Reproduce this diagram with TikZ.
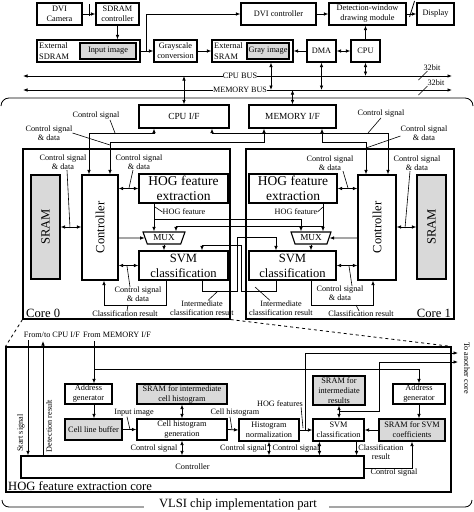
\documentclass[tikz,border=0pt]{standalone}
\usepackage{fontspec}
\setmainfont{Liberation Serif}
\usetikzlibrary{arrows.meta,shapes.geometric}

\begin{document}
\begin{tikzpicture}[x=1pt,y=-1pt,>={Latex[length=4.5pt,width=3.6pt]},
		blk/.style={draw,line width=1.1pt,inner sep=0pt,align=center,font=\fontsize{8.3}{10}\selectfont},
		gblk/.style={blk,fill=black!15},
		big/.style={inner sep=0pt,align=center,font=\fontsize{12.6}{15}\selectfont},
		hog/.style={font=\fontsize{13.5}{15}\selectfont},
		lbl/.style={inner sep=0pt,align=center,font=\fontsize{8.2}{9}\selectfont},
		mux/.style={draw,line width=1.1pt,trapezium,shape border rotate=180,trapezium angle=66,trapezium stretches=true,inner sep=0pt,minimum height=12pt,font=\fontsize{9.2}{10}\selectfont},
		con/.style={line width=0.8pt},
		lead/.style={line width=0.6pt}]
	\useasboundingbox (0,0) rectangle (474,512);
	% system
	\node[blk,minimum width=45pt,minimum height=22pt] (cam) at (59.5,14) {DVI\\Camera};
	\node[blk,minimum width=43pt,minimum height=22pt] (sdc) at (117.5,14) {SDRAM\\controller};
	\node[blk,minimum width=75pt,minimum height=22pt] (dvic) at (278.5,14) {DVI controller};
	\node[blk,minimum width=77pt,minimum height=22pt] (dwd) at (367.5,14) {Detection-window\\drawing module};
	\node[blk,minimum width=37pt,minimum height=22pt] (disp) at (435.5,14) {Display};
	\node[blk,minimum width=103pt,minimum height=22pt] (exsd) at (88.5,51) {};
	\node[lbl,anchor=west,align=left,font=\fontsize{8.4}{11.5}\selectfont] (exsdt) at (39,51) {External\\SDRAM};
	\node[gblk,minimum width=56pt,minimum height=16pt] (inimg) at (108,51) {Input image};
	\node[blk,minimum width=43pt,minimum height=22pt] (gsc) at (175.5,51) {Grayscale\\conversion};
	\node[blk,minimum width=81pt,minimum height=22pt] (exsr) at (252.5,51) {};
	\node[lbl,anchor=west,align=left,font=\fontsize{8.4}{11.5}\selectfont] (exsrt) at (214,51) {External\\SRAM};
	\node[gblk,minimum width=42pt,minimum height=16pt] (grimg) at (268,51) {Gray image};
	\node[blk,minimum width=29pt,minimum height=22pt] (dma) at (321.5,51) {DMA};
	\node[blk,minimum width=29pt,minimum height=22pt] (cpu) at (365.5,51) {CPU};
	\node[lbl,font=\fontsize{8.3}{9}\selectfont] (cbus) at (240,76) {CPU BUS};
	\node[lbl,font=\fontsize{8.1}{9}\selectfont] (mbus) at (240,90) {MEMORY BUS};
	\coordinate (cbl) at (23,76);
	\coordinate (cbr) at (452,76);
	\coordinate (mbl) at (23,90);
	\coordinate (mbr) at (452,90);
	\coordinate (jn) at (146,51);
	\node[lbl] (w1) at (432,68) {32bit};
	\node[lbl] (w2) at (436,83) {32bit};

	\draw[con,->] (cam.east) -- (sdc.west);
	\draw[con] ([xshift=7pt,yshift=10pt]cam.east) -- ([xshift=7pt,yshift=-2pt]cam.east);
	\draw[con,->] (sdc.south) -- (sdc.south |- exsd.north);
	\draw[con,->] (exsd.east) -- (gsc.west);
	\draw[con,->] (jn) |- (dvic.west);
	\draw[con,->] (gsc.east) -- (exsr.west);
	\draw[con,->] (dma.west) -- (exsr.east);
	\draw[con,<->] (dma.east) -- (cpu.west);
	\draw[con,->] (cpu.north) -- (cpu.north |- dwd.south);
	\draw[con,->] (dvic.east) -- (dwd.west);
	\draw[con,->] (dwd.east) -- (disp.west);
	\draw[con] ([xshift=3pt,yshift=-3pt]dwd.east) -- ([xshift=8pt,yshift=13pt]dwd.east);
	\draw[con,->] (cbus.west) -- (cbl);
	\draw[con,->] (cbus.east) -- (cbr);
	\draw[con,->] (mbus.west) -- (mbl);
	\draw[con,->] (mbus.east) -- (mbr);
	\draw[lead] ([xshift=-5pt,yshift=-9pt]w1.south west) -- ([xshift=4pt]w1.south west);
	\draw[lead] ([xshift=-9pt,yshift=-9pt]w2.south west) -- (w2.south west);
	\draw[con,<->] ([xshift=18.5pt]exsr.south) -- ([xshift=18.5pt]exsr.south |- mbus);
	\draw[con,<->] (dma.south) -- (dma.south |- mbus);
	\draw[con,<->] (cpu.south) -- (cpu.south |- cbus);

	% chip
	\draw[con] (1,106) to[out=90,in=180] (9,98) -- (465,98) to[out=0,in=90] (473,106);
	\node[blk,minimum width=90pt,minimum height=23pt,font=\fontsize{9.3}{10}\selectfont] (cpuif) at (184,116.5) {CPU I/F};
	\node[blk,minimum width=87pt,minimum height=23pt,font=\fontsize{9.3}{10}\selectfont] (memif) at (292.5,116.5) {MEMORY I/F};
	\draw[con,<->] (cpuif.north) -- (cpuif.north |- cbus);
	\draw[con,<->] (memif.north) -- (memif.north |- mbus);
	\node[blk,minimum width=207pt,minimum height=170pt] (core0) at (126.5,234) {};
	\node[blk,minimum width=208pt,minimum height=170pt] (core1) at (350,234) {};
	\node[big,anchor=base west] (c0t) at (26,317) {Core 0};
	\node[big,anchor=base east] (c1t) at (451,317) {Core 1};

	\node[gblk,minimum width=29pt,minimum height=104pt] (sram0) at (45.5,227) {};
	\node[big,rotate=90] (sram0t) at (sram0) {SRAM};
	\node[blk,minimum width=36pt,minimum height=105pt] (ctl0) at (100,227.5) {};
	\node[big,rotate=90] (ctl0t) at (ctl0) {Controller};
	\node[blk,big,hog,minimum width=89pt,minimum height=29pt] (hog0) at (183.5,188.5) {HOG feature\\extraction};
	\node[mux,minimum width=42pt] (mux0) at (164,238) {MUX};
	\node[blk,big,minimum width=89pt,minimum height=29pt] (svm0) at (183.5,265.5) {SVM\\classification};

	\node[gblk,minimum width=29pt,minimum height=104pt] (sram1) at (431.5,227) {};
	\node[big,rotate=90] (sram1t) at (sram1) {SRAM};
	\node[blk,minimum width=38pt,minimum height=105pt] (ctl1) at (377,227.5) {};
	\node[big,rotate=90] (ctl1t) at (ctl1) {Controller};
	\node[blk,big,hog,minimum width=88pt,minimum height=29pt] (hog1) at (293,188.5) {HOG feature\\extraction};
	\node[mux,minimum width=40pt] (mux1) at (311,238) {MUX};
	\node[blk,big,minimum width=87pt,minimum height=29pt] (svm1) at (292.5,265.5) {SVM\\classification};

	\coordinate (cs0) at (89,133);
	\coordinate (cs1) at (388,133);
	\coordinate (md0) at (110,142);
	\coordinate (md1) at (366,142);
	\draw[con,<->] ([xshift=-30pt]cpuif.south) |- (cs0) -- (cs0 |- ctl0.north);
	\draw[con,<->] ([xshift=28pt]cpuif.south) |- (cs1) -- (cs1 |- ctl1.north);
	\draw[con,<->] ([xshift=-28.5pt]memif.south) |- (md0) -- (md0 |- ctl0.north);
	\draw[con,<->] ([xshift=29.5pt]memif.south) |- (md1) -- (md1 |- ctl1.north);
	\node[lbl] (l1) at (96,116) {Control signal};
	\node[lbl] (l2) at (49,133) {Control signal\\\& data};
	\node[lbl] (l3) at (381,114) {Control signal};
	\node[lbl] (l4) at (424,133) {Control signal\\\& data};
	\draw[lead] ([xshift=14pt]l1.south) -- (115,133);
	\draw[lead] (l2.east) -- (110,145);
	\draw[lead] (l3.south) -- (368,133);
	\draw[lead] ([yshift=-3pt]l4.west) -- (366,148);

	\draw[con,<->] (sram0.east) -- (sram0.east -| ctl0.west);
	\draw[con,<->] (ctl0.east |- hog0) -- (hog0.west);
	\draw[con,->] (ctl0.east |- mux0) -- (mux0.west);
	\draw[con,<->] (ctl0.east |- svm0) -- (svm0.west);
	\draw[con,->] (mux0.south) -- (mux0.south |- svm0.north);
	\draw[con,<->] (sram1.west) -- (sram1.west -| ctl1.east);
	\draw[con,<->] (ctl1.west |- hog1) -- (hog1.east);
	\draw[con,->] (ctl1.west |- mux1) -- (mux1.east);
	\draw[con,<->] (ctl1.west |- svm1) -- (svm1.east);
	\draw[con,->] (mux1.south) -- (mux1.south |- svm1.north);

	\coordinate (h0o) at (154,203);
	\coordinate (h0x) at (154,219);
	\coordinate (m1l) at (301,219);
	\coordinate (h1o) at (323,203);
	\coordinate (h1x) at (323,226);
	\coordinate (m0r) at (176,226);
	\draw[con,->] (h0o) -- (h0o |- mux0.north);
	\draw[con,->] (h0x) -- (m1l) -- (m1l |- mux1.north);
	\draw[con,->] (h1o) -- (h1o |- mux1.north);
	\draw[con,->] (h1x) -- (m0r) -- (m0r |- mux0.north);

	\coordinate (cr0) at (166,305);
	\coordinate (cr1) at (311,305);
	\draw[con,->] (svm0.south -| cr0) -- (cr0) -| ([xshift=4pt]ctl0.south);
	\draw[con,->] (svm1.south -| cr1) -- (cr1) -| ([xshift=-4pt]ctl1.south);
	\coordinate (ia0) at (202,291);
	\coordinate (ia1) at (237,237);
	\coordinate (ib0) at (276,291);
	\coordinate (ib1) at (241,245);
	\draw[con,->] (svm0.south -| ia0) -- (ia0) -| (ia1) -| (svm1.north -| ib0);
	\draw[con,->] (svm1.south -| ib0) -- (ib0) -| (ib1) -| (svm0.north -| ia0);

	\node[lbl] (l5) at (63,162.5) {Control signal\\\& data};
	\node[lbl] (l6) at (139,162.5) {Control signal\\\& data};
	\node[lbl] (l7) at (184,212) {HOG feature};
	\node[lbl] (l8) at (138,294.5) {Control signal\\\& data};
	\node[lbl] (l9) at (125,314) {Classification result};
	\node[lbl] (l10) at (202,308) {Intermediate\\classification result};
	\draw[lead] ([xshift=4pt]l5.south) -- (70,228);
	\draw[lead] ([xshift=-6pt]l6.south) -- (129,188);
	\draw[lead] (l7.west) -- (155,207);
	\draw[lead] ([xshift=-8pt]l8.north) -- (127,266);
	\draw[lead] ([xshift=2pt]l9.north) -- (128,305);
	\draw[lead] ([xshift=6pt]l10.north) -- (218,291);
	\node[lbl] (l11) at (330,163.5) {Control signal\\\& data};
	\node[lbl] (l12) at (417,163.5) {Control signal\\\& data};
	\node[lbl] (l13) at (296,212) {HOG feature};
	\node[lbl] (l14) at (340,293.5) {Control signal\\\& data};
	\node[lbl] (l15) at (361,314) {Classification result};
	\node[lbl] (l16) at (281,308) {Intermediate\\classification result};
	\draw[lead] ([xshift=13pt]l11.south) -- (348,188);
	\draw[lead] ([xshift=-7pt]l12.south) -- (405,228);
	\draw[lead] (l13.east) -- (323,207);
	\draw[lead] ([xshift=12pt]l14.north) -- (349,266);
	\draw[lead] ([xshift=-2pt]l15.north) -- (356,305);
	\draw[lead] ([xshift=-11pt]l16.north) -- (255,287);

	% hog core
	\node[blk,minimum width=445pt,minimum height=145pt] (hcore) at (228.5,419.5) {};
	\draw[con,dashed] (core0.south west) -- (hcore.north west);
	\draw[con,dashed] (core0.south east) -- (hcore.north east);
	\node[big,anchor=base west] (hct) at (8,490) {HOG feature extraction core};
	\node[lbl] (fcpu) at (52,335) {From/to CPU I/F};
	\node[lbl] (fmem) at (117,335) {From MEMORY I/F};
	\node[blk,minimum width=47pt,minimum height=20pt] (ag0) at (88.5,394) {Address\\generator};
	\node[gblk,minimum width=57pt,minimum height=21pt] (clb) at (93.5,429.5) {Cell line buffer};
	\node[gblk,minimum width=90pt,minimum height=20pt] (sramch) at (182,394) {SRAM for intermediate\\cell histogram};
	\node[blk,minimum width=90pt,minimum height=21pt] (chg) at (182,429.5) {Cell histogram\\generation};
	\node[blk,minimum width=60pt,minimum height=22pt] (hn) at (269,430) {Histogram\\normalization};
	\node[blk,minimum width=51pt,minimum height=22pt] (svmb) at (338.5,430) {SVM\\classification};
	\node[gblk,minimum width=52pt,minimum height=29pt] (sramir) at (339,390.5) {SRAM for\\intermediate\\results};
	\node[blk,minimum width=52pt,minimum height=20pt] (ag1) at (419,394) {Address\\generator};
	\node[gblk,minimum width=66pt,minimum height=22pt] (sramsvm) at (412,430) {SRAM for SVM\\coefficients};
	\node[blk,minimum width=343pt,minimum height=22pt] (ctlb) at (192.5,467) {Controller};

	\coordinate (ss) at (28,340);
	\coordinate (dr) at (43,341);
	\coordinate (fm) at (94,341);
	\coordinate (fmj) at (94,369);
	\coordinate (hf) at (305,430);
	\coordinate (ir) at (339,411);
	\coordinate (irc) at (379,362);
	\coordinate (toc1) at (458,353);
	\coordinate (toc2) at (458,362);
	\draw[con,->] (ss) -- (ss |- ctlb.north);
	\draw[con,->] (dr |- ctlb.north) -- (dr);
	\draw[con,->] (fm) -- (fm |- ag0.north);
	\draw[con,->] (fmj) -| (ag1.north);
	\draw[con,->] (fm |- ag0.south) -- (fm |- clb.north);
	\draw[con,->] (clb.east) -- (chg.west);
	\draw[con,<->] (sramch.south) -- (chg.north);
	\draw[con,->] (chg.east) -- (hn.west);
	\draw[con,->] (hn.east) -- (svmb.west);
	\draw[con,<->] (sramir.south) -- (sramir.south |- svmb.north);
	\draw[con,->] (ag1.south) -- (ag1.south |- sramsvm.north);
	\draw[con,->] (sramsvm.west) -- (svmb.east);
	\draw[con,<->] (chg.south) -- (chg.south |- ctlb.north);
	\draw[con,<->] (hn.south) -- (hn.south |- ctlb.north);
	\draw[con,<->] ([xshift=7pt]svmb.south west) -- ([xshift=7pt]svmb.south west |- ctlb.north);
	\draw[con,->] ([xshift=-8pt]svmb.south east) -- ([xshift=-8pt]svmb.south east |- ctlb.north);
	\draw[con,->] ([yshift=-1pt]ctlb.east) -| (sramsvm.south);
	\draw[con,->] (hf) |- (toc1);
	\draw[con,->] (ir) -| (irc) -- (toc2);

	\node[lbl,rotate=90] (lss) at (21,433) {Start signal};
	\node[lbl,rotate=90] (ldr) at (49,426) {Detection result};
	\node[lbl,rotate=-90] (ltoc) at (467,368) {To another core};
	\node[lbl] (lin) at (134,413) {Input image};
	\node[lbl] (lch) at (235,413) {Cell histogram};
	\node[lbl] (lhf) at (280,404) {HOG features};
	\node[lbl] (lc1) at (154,449) {Control signal};
	\node[lbl] (lc2) at (243.5,449) {Control signal};
	\node[lbl] (lc3) at (296,449) {Control signal};
	\node[lbl] (lcr) at (381,452) {Classification\\result};
	\node[lbl] (lc4) at (394,473) {Control signal};
	\draw[lead] ([xshift=-7pt]lin.south) -- (130,429.5);
	\draw[lead] ([xshift=-5pt]lch.south) -- (232,429.5);
	\draw[lead] ([xshift=-2pt]lhf.south east) -- (303,428);

	\node[big] (vlsi) at (238,504) {VLSI chip implementation part};
	\draw[con] ([xshift=-15pt]vlsi.west |- 0,507) -- (9,507) to[out=180,in=-90] (2,500);
	\draw[con] ([xshift=12pt]vlsi.east |- 0,507) -- (465,507) to[out=0,in=-90] (472,500);
\end{tikzpicture}
\end{document}
